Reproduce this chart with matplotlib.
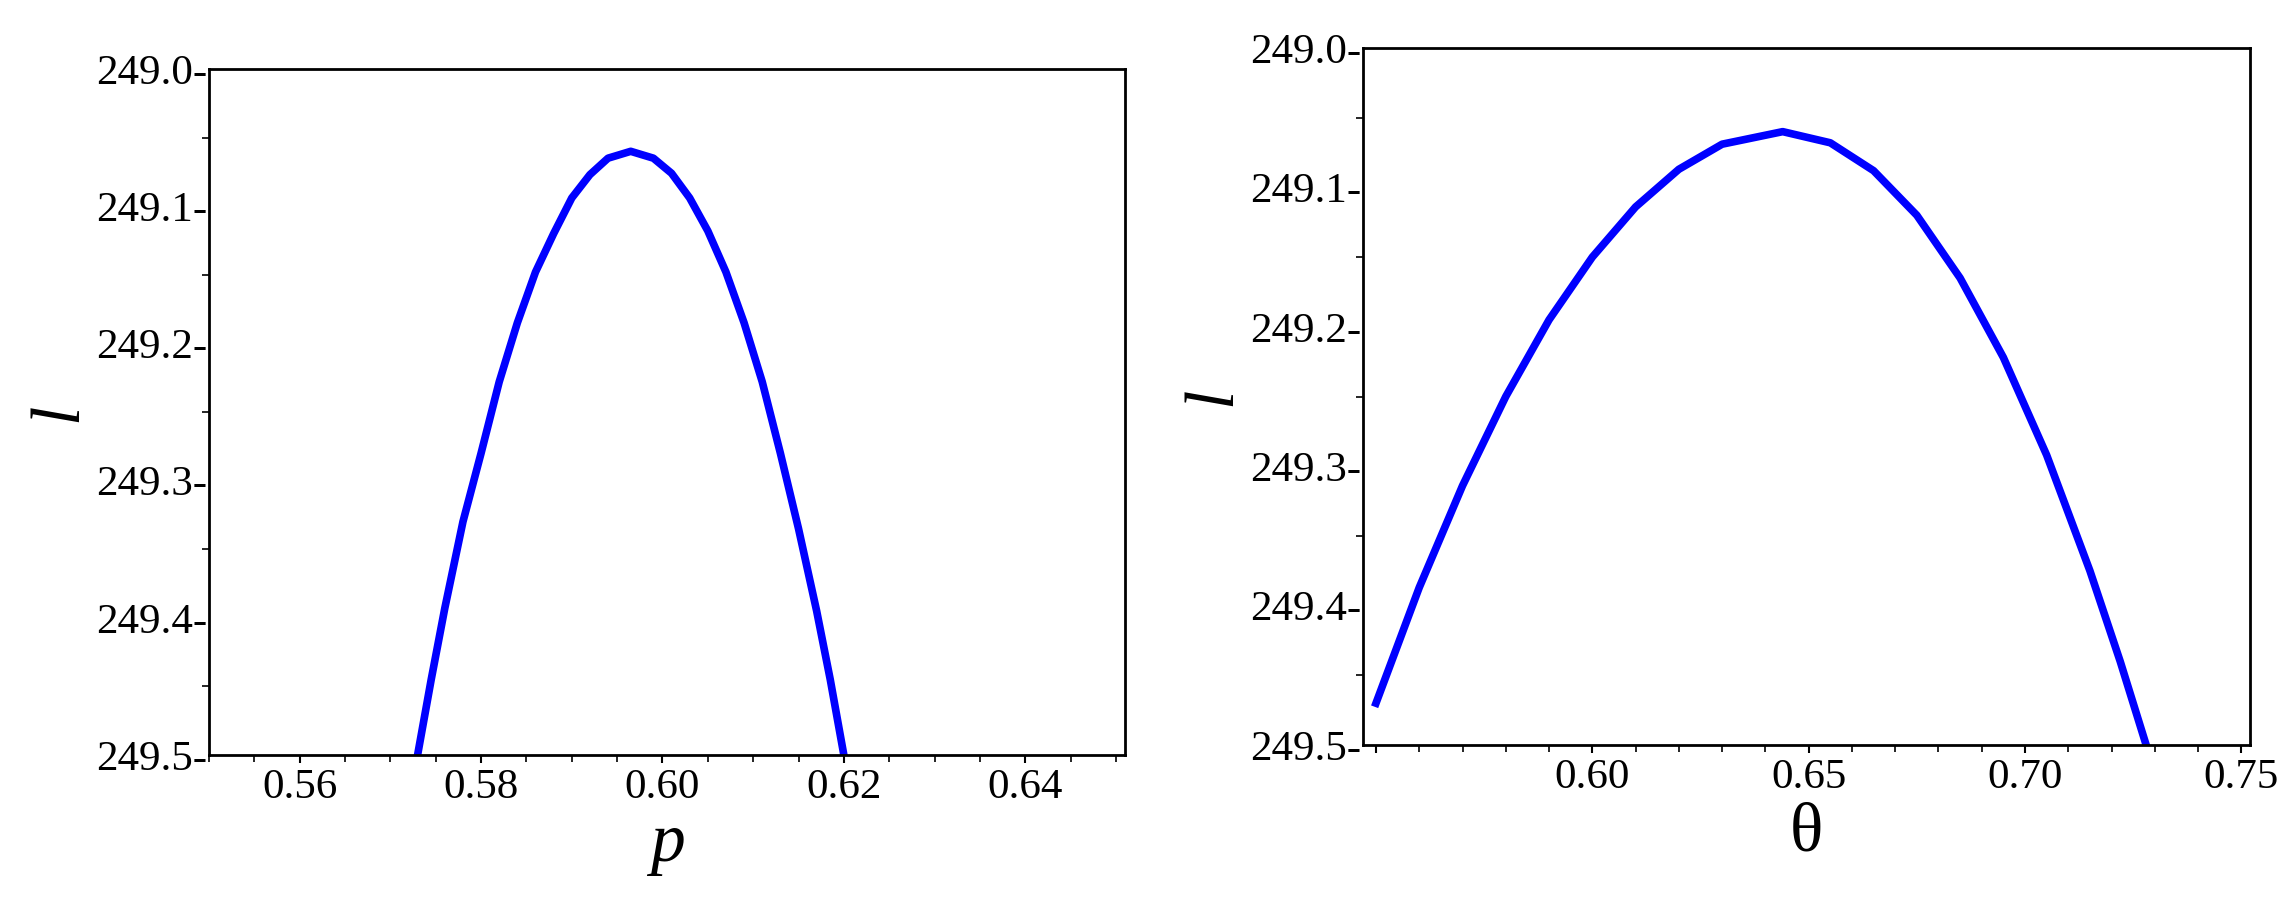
import matplotlib
matplotlib.use("Agg")
import matplotlib.pyplot as plt
from matplotlib.ticker import MultipleLocator, FuncFormatter

plt.rcParams['font.family'] = ['Liberation Serif', 'DejaVu Serif']

p_vals = [0.573, 0.5745, 0.576, 0.578, 0.580, 0.582, 0.584, 0.586, 0.588, 0.590, 0.592, 0.594, 0.5965,
          0.599, 0.601, 0.603, 0.605, 0.607, 0.609, 0.611, 0.613, 0.615, 0.617, 0.6185, 0.620]
l_p = [249.5, 249.445, 249.393, 249.33, 249.28, 249.228, 249.185, 249.148, 249.12, 249.094, 249.077, 249.065, 249.06,
       249.065, 249.076, 249.094, 249.118, 249.148, 249.185, 249.228, 249.28, 249.335, 249.395, 249.445, 249.5]

theta_vals = [0.55, 0.56, 0.57, 0.58, 0.59, 0.60, 0.61, 0.62, 0.63, 0.644,
              0.655, 0.665, 0.675, 0.685, 0.695, 0.705, 0.715, 0.722, 0.728]
l_theta = [249.47, 249.387, 249.314, 249.25, 249.195, 249.15, 249.114, 249.087, 249.069, 249.06,
           249.068, 249.088, 249.12, 249.165, 249.222, 249.292, 249.375, 249.44, 249.5]

W, H = 2291, 916
fig = plt.figure(figsize=(W/100, H/100), dpi=100)
ax1 = fig.add_axes([209/W, 1-755/H, 916/W, 686/H])
ax2 = fig.add_axes([1363/W, 1-745/H, 887/W, 697/H])

fmt = FuncFormatter(lambda v, _: f"{v:.1f}-")
for ax in (ax1, ax2):
    ax.set_ylim(249.5, 249.0)
    ax.yaxis.set_major_locator(MultipleLocator(0.1))
    ax.yaxis.set_minor_locator(MultipleLocator(0.05))
    ax.yaxis.set_major_formatter(fmt)
    ax.tick_params(axis='both', labelsize=31, direction='out', length=6, width=1.5)
    ax.tick_params(axis='y', length=0, which='major', pad=1)
    ax.tick_params(axis='both', which='minor', length=5, width=1.2)
    for s in ax.spines.values():
        s.set_linewidth(2)

ax1.plot(p_vals, l_p, color='blue', lw=5.5)
ax1.set_xlim(0.55, 0.651)
ax1.xaxis.set_major_locator(MultipleLocator(0.02))
ax1.xaxis.set_minor_locator(MultipleLocator(0.005))
ax1.xaxis.set_major_formatter(FuncFormatter(lambda v, _: f"{v:.2f}"))
ax1.set_xlabel('p', fontsize=50, style='italic')
ax1.set_ylabel('l', fontsize=50, style='italic')

ax2.plot(theta_vals, l_theta, color='blue', lw=5.5)
ax2.set_xlim(0.547, 0.752)
ax2.xaxis.set_major_locator(MultipleLocator(0.05))
ax2.xaxis.set_minor_locator(MultipleLocator(0.01))
ax2.xaxis.set_major_formatter(FuncFormatter(lambda v, _: "" if v < 0.56 else f"{v:.2f}"))
ax2.set_xlabel('θ', fontsize=50)
ax2.set_ylabel('l', fontsize=50, style='italic')

fig.savefig('out.png', dpi=100)
